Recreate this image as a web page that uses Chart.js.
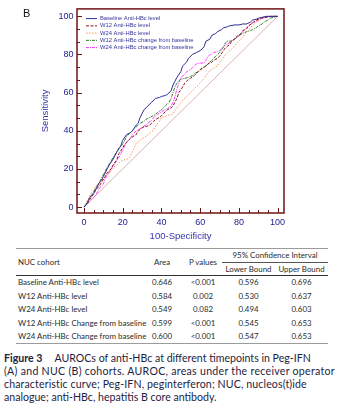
<!DOCTYPE html>
<html>
<head>
<meta charset="utf-8">
<script src="https://cdn.jsdelivr.net/npm/chart.js@4.4.0/dist/chart.umd.min.js"></script>
<style>
    html, body { margin: 0; padding: 0; background: #fff; }
    #page { position: relative; width: 341px; height: 417px; overflow: hidden; }
    #rocChart { position: absolute; left: 0; top: 0; }
    .panel-tag {
        position: absolute; left: 23px; top: 8px;
        font: 11px/11px "Liberation Sans", Arial, sans-serif; color: #111;
    }
    table.auroc {
        position: absolute; left: 16px; top: 248px; width: 312px;
        border-collapse: collapse; table-layout: fixed;
        font: 7.9px Lato, sans-serif; color: #2b2b2b;
        border-top: 1.5px solid #9c9c9c; border-bottom: 1.5px solid #9c9c9c;
    }
    table.auroc th, table.auroc td { padding: 0; font-weight: normal; text-align: center; white-space: nowrap; }
    table.auroc .name { text-align: left; padding-left: 2px; }
    table.auroc tr.h1 th { height: 12.5px; }
    table.auroc tr.h2 th { height: 12px; }
    table.auroc th.ci { border-bottom: 1px solid #555; }
    table.auroc tr.h2 th, table.auroc th.span2 { border-bottom: 1px solid #333; }
    table.auroc tbody td { height: 13.5px; }
    .caption {
        position: absolute; left: 4px; top: 351.5px; margin: 0;
        font: 10.6px/13.3px Lato, sans-serif; color: #1f2340; white-space: nowrap;
    }
    .caption span { display: block; }
    .caption b { margin-right: 12px; }
    .caption .l2 { letter-spacing: 0.28px; }
    .caption .l3 { letter-spacing: 0.12px; }
</style>
</head>
<body>
<div id="page">
    <canvas id="rocChart" width="341" height="245"></canvas>
    <div class="panel-tag">B</div>
    <table class="auroc">
        <colgroup>
            <col style="width:124px"><col style="width:44px"><col style="width:38px"><col style="width:53px"><col style="width:53px">
        </colgroup>
        <thead>
            <tr class="h1">
                <th rowspan="2" class="name span2">NUC cohort</th>
                <th rowspan="2" class="span2">Area</th>
                <th rowspan="2" class="span2">P values</th>
                <th colspan="2" class="ci">95% Confidence Interval</th>
            </tr>
            <tr class="h2"><th>Lower Bound</th><th>Upper Bound</th></tr>
        </thead>
        <tbody id="aurocRows"></tbody>
    </table>
    <p class="caption">
        <span class="l1"><b>Figure 3</b>AUROCs of anti-HBc at different timepoints in Peg-IFN</span>
        <span class="l2">(A) and NUC (B) cohorts. AUROC, areas under the receiver operator</span>
        <span class="l3">characteristic curve; Peg-IFN, peginterferon; NUC, nucleos(t)ide</span>
        <span class="l4">analogue; anti-HBc, hepatitis B core antibody.</span>
    </p>
</div>
<script>
// ROC points: x = 100-Specificity, y = Sensitivity
const baselineX = [0, 1, 2, 3, 5, 6, 8, 9, 10, 12, 13, 15, 16, 17, 19, 20, 22, 24, 25, 27, 28, 29, 31, 33, 35, 37, 39, 40, 42, 43, 45, 46, 47, 48, 50, 51, 53, 54, 56, 58, 60, 62, 63, 65, 66, 68, 69, 71, 72, 74, 75, 78, 80, 82, 84, 86, 87, 89, 90, 92, 94, 97, 100];
const baselineY = [0, 1, 3, 5, 7, 9, 13, 14, 16, 20, 22, 25, 27, 29, 32, 35, 38, 39, 40, 43, 44, 47, 51, 53, 55, 57, 57.5, 58, 58.5, 59, 61, 64, 66, 68, 71, 74, 76, 78, 80, 81, 82, 84, 87, 88, 90, 91, 92, 93, 94, 94.5, 95, 95.5, 95.5, 96, 96, 97, 98, 98.5, 99, 99.5, 100, 100, 100];

const w12LevelX = [0, 2, 3, 5, 6, 8, 9, 11, 12, 14, 15, 17, 18, 20, 21, 23, 24, 26, 27, 28, 30, 31, 33, 34, 36, 37, 39, 40, 42, 43, 45, 46, 47, 48, 49, 51, 52, 54, 55, 57, 58, 60, 61, 63, 64, 66, 67, 69, 70, 72, 73, 75, 76, 78, 79, 81, 82, 84, 85, 87, 89, 91, 94, 97, 100];
const w12LevelY = [0, 2, 4, 7, 9, 11, 13, 16, 18, 20, 22, 25, 28, 31, 33, 35, 36, 37.5, 38, 40, 41.5, 42, 42.5, 43, 45, 46, 47, 48, 50, 51, 52, 53, 55, 57, 60, 63, 65, 67, 67.5, 69, 70, 72, 72.5, 74, 75, 76, 77, 78, 79, 82, 83.5, 85, 86.5, 88.5, 89.5, 91, 92.5, 93.5, 95, 96.5, 98, 99, 99.5, 100, 100];

const w24LevelX = [0, 1, 2, 4, 5, 7, 8, 10, 11, 13, 14, 16, 17, 19, 20, 22, 23, 24, 25, 26, 27, 29, 30, 32, 33, 35, 36, 37, 39, 40, 42, 43, 45, 46, 47, 48, 50, 51, 53, 54, 56, 57, 59, 60, 62, 63, 65, 66, 68, 69, 70, 72, 73, 74, 76, 77, 79, 80, 82, 83, 85, 86, 88, 89, 91, 92, 95, 97, 100];
const w24LevelY = [0, 2, 4, 8, 9, 12, 12.5, 15, 16, 18.5, 19, 21.5, 22, 24, 24.5, 25, 25.5, 27, 29, 31, 33.5, 35, 36, 37, 38, 39.5, 40.5, 42.5, 45, 47, 47.5, 48, 48.5, 49, 50.5, 52, 54.5, 56, 58, 59, 61, 62, 64, 65, 67.5, 69, 71.5, 72, 73.5, 74, 76, 78, 80, 81, 82.5, 83.5, 86, 87, 89, 90.5, 92.5, 94, 96, 97, 98.5, 99, 100, 100, 100];

const w12ChangeX = [0, 2, 3, 5, 6, 8, 9, 11, 12, 14, 15, 17, 18, 20, 22, 24, 25, 27, 29, 31, 32, 34, 36, 38, 40, 42, 44, 45, 46, 47, 48, 50, 52, 54, 56, 57, 59, 61, 63, 64, 66, 67, 69, 70, 72, 73, 74, 76, 77, 79, 80, 82, 84, 86, 87, 89, 90, 92, 93, 95, 96, 98, 100];
const w12ChangeY = [0, 3, 5, 8, 10, 13, 15, 19, 21, 24, 26, 29, 31, 33, 37, 39, 40, 42, 44, 45, 46, 47, 48, 49.5, 51, 53, 55, 57, 60, 63, 65, 67, 67.5, 68, 69, 70, 71, 73, 74, 75, 77, 78, 80, 81, 84, 86, 87, 87, 87.5, 89, 90, 91, 92, 92.5, 93, 94, 95, 96, 97, 98, 99, 99.5, 100];

const w24ChangeX = [0, 2, 3, 5, 6, 8, 10, 11, 13, 14, 16, 18, 19, 21, 22, 24, 25, 27, 29, 30, 32, 33, 35, 36, 38, 40, 42, 43, 45, 46, 47, 48, 49, 50, 52, 53, 55, 56, 58, 60, 62, 63, 64, 66, 67, 69, 70, 72, 73, 75, 76, 78, 79, 81, 82, 84, 85, 87, 88, 90, 92, 94, 96, 100];
const w24ChangeY = [0, 2, 3, 5, 6, 10, 12, 15, 18, 20, 23, 26, 28, 32, 34, 36, 38, 40, 41, 42, 43, 44, 45.5, 47, 48.5, 50, 51, 51.5, 53, 55, 58, 62, 65, 68, 69.5, 71, 72, 73, 75, 75.5, 75.5, 77, 79, 80.5, 81, 81.5, 82, 84, 85, 86, 87, 88, 89, 90.5, 92, 94, 95, 96.5, 97, 98, 99, 99.5, 100, 100];

const chanceX = [0, 100];
const chanceY = [0, 100];

const seriesLabels = [
    'Baseline Anti-HBc level',
    'W12 Anti-HBc level',
    'W24 Anti-HBc level',
    'W12 Anti-HBc change from baseline',
    'W24 Anti-HBc change from baseline'
];

const xTickValues = [0, 20, 40, 60, 80, 100];
const yTickValues = [0, 20, 40, 60, 80, 100];

// summary table
const cohortRows = [
    'Baseline Anti-HBc level',
    'W12 Anti-HBc level',
    'W24 Anti-HBc level',
    'W12 Anti-HBc Change from baseline',
    'W24 Anti-HBc Change from baseline'
];
const areaValues = ['0.646', '0.584', '0.549', '0.599', '0.600'];
const pValues = ['<0.001', '0.002', '0.082', '<0.001', '<0.001'];
const lowerBounds = ['0.596', '0.530', '0.494', '0.545', '0.547'];
const upperBounds = ['0.696', '0.637', '0.603', '0.653', '0.653'];

const COLORS = {
    navy: '#2d2d99',
    darkRed: '#8c1414',
    orange: '#ff9350',
    green: '#2f7d2f',
    magenta: '#ff33ff',
    chance: '#dbb3b3',
    frame: '#6e1414',
    tick: '#1c1c8c',
    title: '#3333aa',
    legendText: '#34349a'
};
const FONT = '"Liberation Sans", Arial, sans-serif';

const toPoints = (xs, ys) => xs.map((x, i) => ({ x, y: ys[i] }));

const buildTable = () => {
    const body = document.getElementById('aurocRows');
    cohortRows.forEach((name, i) => {
        const tr = document.createElement('tr');
        [name, areaValues[i], pValues[i], lowerBounds[i], upperBounds[i]].forEach((text, c) => {
            const td = document.createElement('td');
            td.textContent = text;
            if (c === 0) td.className = 'name';
            tr.appendChild(td);
        });
        body.appendChild(tr);
    });
};

// box frame with inward tick marks, drawn like the plotting package does
const frameTicks = {
    id: 'frameTicks',
    afterDatasetsDraw(chart) {
        const { ctx, chartArea: a, scales: { x, y } } = chart;
        ctx.save();
        ctx.strokeStyle = COLORS.frame;
        ctx.lineWidth = 1;
        for (let v = 0; v <= 100; v += 5) {
            const px = Math.round(x.getPixelForValue(v)) + 0.5;
            const len = v % 20 === 0 ? 5 : 3;
            ctx.beginPath();
            ctx.moveTo(px, a.bottom);
            ctx.lineTo(px, a.bottom - len);
            ctx.stroke();
        }
        for (let k = 0; k <= 15; k++) {
            const v = k * 20 / 3;
            const py = Math.round(y.getPixelForValue(v)) + 0.5;
            const len = k % 3 === 0 ? 5 : 3;
            ctx.beginPath();
            ctx.moveTo(a.left, py);
            ctx.lineTo(a.left + len, py);
            ctx.stroke();
        }
        ctx.lineWidth = 1.5;
        ctx.strokeRect(a.left, a.top, a.right - a.left, a.bottom - a.top);
        ctx.restore();
    }
};

// legend sits inside the plot, top left
const insideLegend = {
    id: 'insideLegend',
    afterDraw(chart) {
        const { ctx, chartArea: a } = chart;
        ctx.save();
        ctx.font = '5.8px ' + FONT;
        ctx.textBaseline = 'middle';
        chart.data.datasets.forEach((ds, i) => {
            if (!ds.label) return;
            const rowY = a.top + 9.7 + i * 7.25;
            ctx.strokeStyle = ds.borderColor;
            ctx.lineWidth = 1;
            ctx.setLineDash(ds.borderDash || []);
            ctx.beginPath();
            ctx.moveTo(a.left + 9, rowY);
            ctx.lineTo(a.left + 20, rowY);
            ctx.stroke();
            ctx.setLineDash([]);
            ctx.fillStyle = COLORS.legendText;
            ctx.fillText(ds.label, a.left + 23, rowY);
        });
        ctx.restore();
    }
};

const createRocChart = () => {
    const ctx = document.getElementById('rocChart').getContext('2d');
    const line = (label, xs, ys, color, dash) => ({
        label,
        data: toPoints(xs, ys),
        borderColor: color,
        borderWidth: 1,
        borderDash: dash,
        pointRadius: 0,
        fill: false
    });

    return new Chart(ctx, {
        type: 'line',
        data: {
            datasets: [
                line(seriesLabels[0], baselineX, baselineY, COLORS.navy, []),
                line(seriesLabels[1], w12LevelX, w12LevelY, COLORS.darkRed, [3, 1.5]),
                line(seriesLabels[2], w24LevelX, w24LevelY, COLORS.orange, [1.5, 1.5]),
                line(seriesLabels[3], w12ChangeX, w12ChangeY, COLORS.green, [3, 1, 1, 1]),
                line(seriesLabels[4], w24ChangeX, w24ChangeY, COLORS.magenta, [3, 1, 1, 1]),
                line('', chanceX, chanceY, COLORS.chance, [])
            ]
        },
        options: {
            responsive: false,
            animation: false,
            layout: { padding: { left: 0, right: 57, top: 7, bottom: 0 } },
            plugins: { legend: { display: false }, tooltip: { enabled: false } },
            scales: {
                x: {
                    type: 'linear',
                    min: -3.6,
                    max: 103.3,
                    afterFit: (s) => { s.height = 32; },
                    afterBuildTicks: (s) => { s.ticks = xTickValues.map(v => ({ value: v })); },
                    grid: { display: false, drawTicks: false },
                    border: { display: false },
                    ticks: { color: COLORS.tick, font: { family: FONT, size: 9 }, padding: 4, maxRotation: 0, autoSkip: false },
                    title: { display: true, text: '100-Specificity', color: COLORS.title, font: { family: FONT, size: 9.5 }, padding: { top: 0, bottom: 3.3 } }
                },
                y: {
                    type: 'linear',
                    min: -3.1,
                    max: 103.9,
                    afterFit: (s) => { s.width = 77; },
                    afterBuildTicks: (s) => { s.ticks = yTickValues.map(v => ({ value: v })); },
                    grid: { display: false, drawTicks: false },
                    border: { display: false },
                    ticks: { color: COLORS.tick, font: { family: FONT, size: 9 }, padding: 3.5, autoSkip: false },
                    title: { display: true, text: 'Sensitivity', color: COLORS.title, font: { family: FONT, size: 9.5 }, padding: { top: 39.3, bottom: 0 } }
                }
            }
        },
        plugins: [frameTicks, insideLegend]
    });
};

buildTable();
createRocChart();
</script>
</body>
</html>
